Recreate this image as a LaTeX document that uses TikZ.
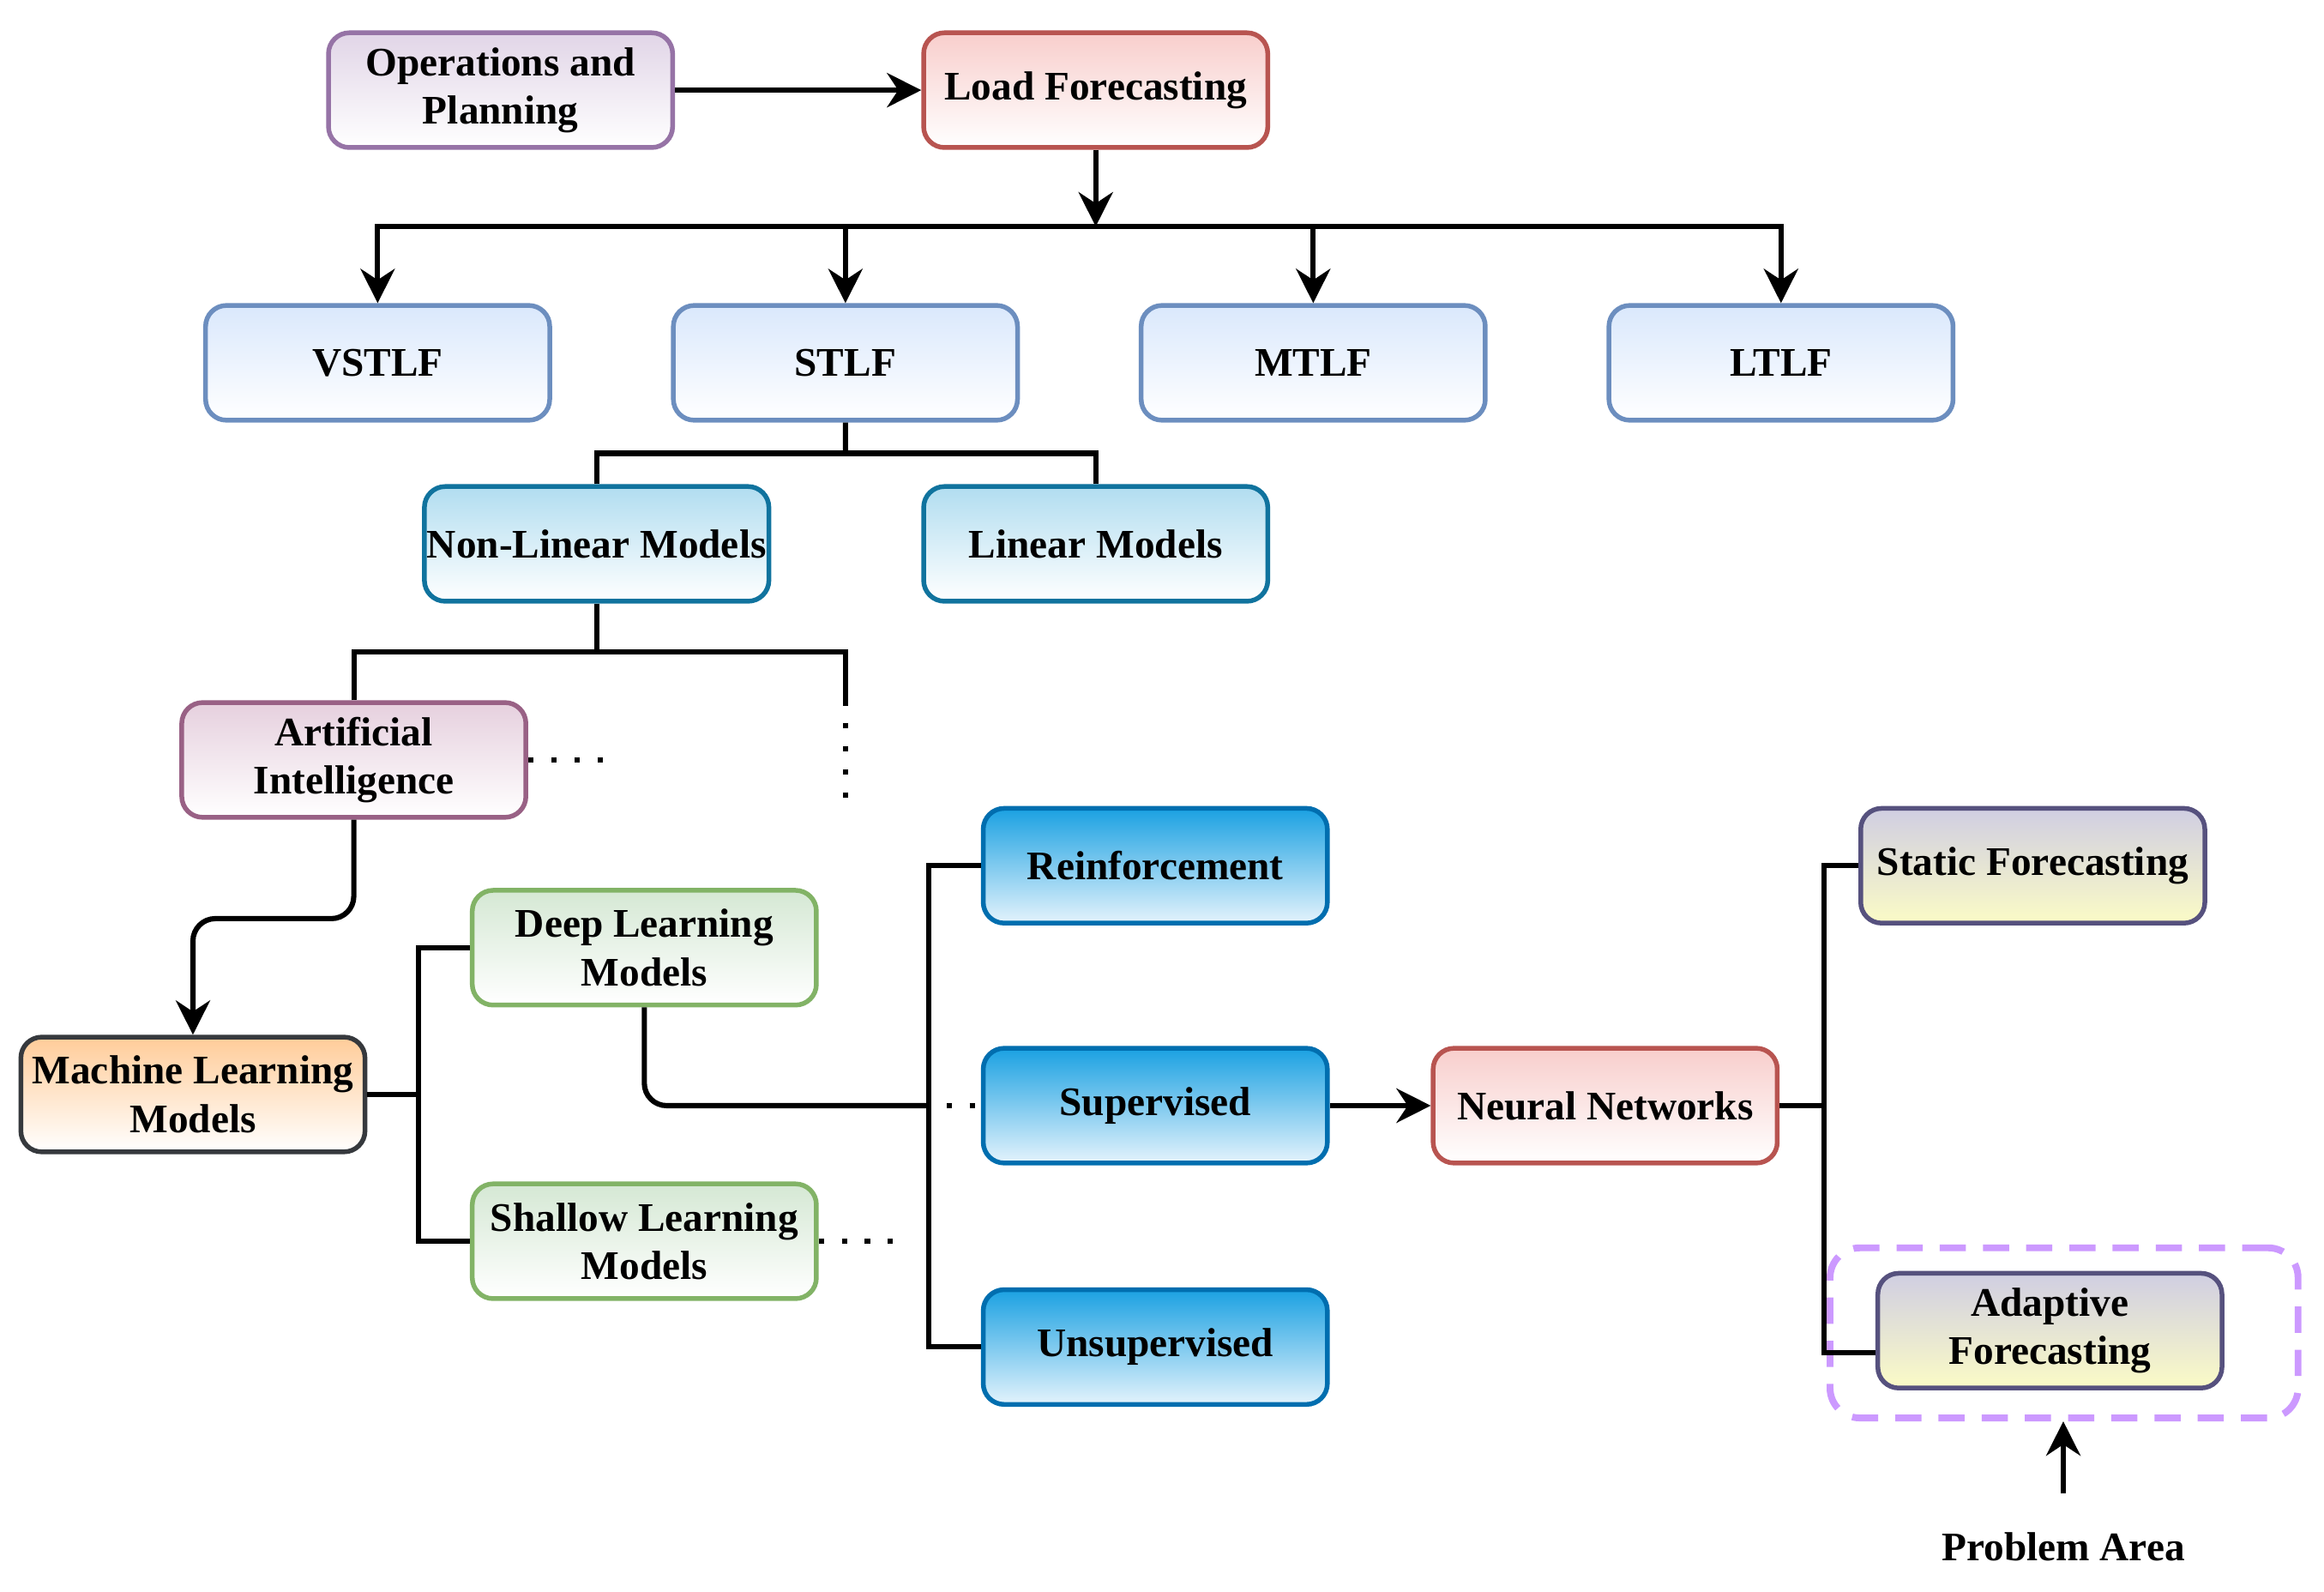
\documentclass[tikz,border=0pt]{standalone}
\usepackage{fontspec}
\setmainfont{Liberation Serif}
\usetikzlibrary{positioning, arrows.meta, calc, fit}

\definecolor{opfill}{HTML}{E1D5E7}
\definecolor{opdraw}{HTML}{9673A6}
\definecolor{lffill}{HTML}{F8CECC}
\definecolor{lfdraw}{HTML}{B85450}
\definecolor{horfill}{HTML}{DAE8FC}
\definecolor{hordraw}{HTML}{6C8EBF}
\definecolor{modfill}{HTML}{B1DDF0}
\definecolor{moddraw}{HTML}{10739E}
\definecolor{aifill}{HTML}{E6D0DE}
\definecolor{aidraw}{HTML}{996185}
\definecolor{mlfill}{HTML}{FFCC99}
\definecolor{mldraw}{HTML}{36393D}
\definecolor{lrnfill}{HTML}{D5E8D4}
\definecolor{lrndraw}{HTML}{82B366}
\definecolor{typfill}{HTML}{1BA1E2}
\definecolor{typdraw}{HTML}{006EAF}
\definecolor{typlow}{HTML}{E4F3FC}
\definecolor{fcfill}{HTML}{D0CEE2}
\definecolor{fclow}{HTML}{FBFBC6}
\definecolor{fcdraw}{HTML}{56517E}
\definecolor{areadraw}{HTML}{CC99FF}

\begin{document}
\begin{tikzpicture}[node distance=2cm,on grid,
  block/.style={rectangle,rounded corners=0.28cm,line width=1.8pt,
    minimum width=4.62cm,minimum height=1.54cm,inner xsep=1pt,align=center,
    font=\fontsize{15.5}{18.5}\selectfont\bfseries},
  opbox/.style={draw=opdraw,top color=opfill,bottom color=white},
  lfbox/.style={draw=lfdraw,top color=lffill,bottom color=white},
  horbox/.style={draw=hordraw,top color=horfill,bottom color=white},
  modelbox/.style={draw=moddraw,top color=modfill,bottom color=white},
  aibox/.style={draw=aidraw,top color=aifill,bottom color=white},
  mlbox/.style={draw=mldraw,top color=mlfill,bottom color=white},
  learnbox/.style={draw=lrndraw,top color=lrnfill,bottom color=white},
  typebox/.style={draw=typdraw,top color=typfill,bottom color=typlow},
  fcbox/.style={draw=fcdraw,top color=fcfill,bottom color=fclow},
  link/.style={line width=2pt},
  arrow/.style={link,-{Stealth[length=0.46cm,width=0.46cm,inset=0.15cm]}},
  dotlink/.style={line width=2pt,dash pattern=on 2pt off 6.8pt},
  areabox/.style={draw=areadraw,line width=2.6pt,dash pattern=on 10pt off 6.5pt,
    rounded corners=0.4cm,inner sep=0pt}]

\path[use as bounding box,fill=white] (0,0) rectangle (31.2,-21.36);

% top levels
\node[block,opbox] (op) at (6.72,-1.21) {Operations and\\Planning};
\node[block,lfbox] (lf) [right=7.99cm of op] {Load Forecasting};
\node[block,horbox] (stlf) [below left=3.66cm and 3.36cm of lf] {STLF};
\node[block,horbox] (vstlf) [left=6.28cm of stlf] {VSTLF};
\node[block,horbox] (mtlf) [right=6.28cm of stlf] {MTLF};
\node[block,horbox] (ltlf) [right=6.28cm of mtlf] {LTLF};

% models
\node[block,modelbox] (nonlin) [below left=2.43cm and 3.34cm of stlf] {Non-Linear Models};
\node[block,modelbox] (lin) [right=6.7cm of nonlin] {Linear Models};
\node[block,aibox] (ai) [below left=2.9cm and 3.26cm of nonlin] {Artificial\\Intelligence};
\node[block,mlbox] (ml) [below left=4.49cm and 2.16cm of ai] {Machine Learning\\Models};
\node[block,learnbox] (deep) [above right=1.97cm and 6.06cm of ml] {Deep Learning\\Models};
\node[block,learnbox] (shallow) [below=3.94cm of deep] {Shallow Learning\\Models};

% learning types
\node[block,typebox] (sup) [below right=2.12cm and 6.86cm of deep] {Supervised};
\node[block,typebox] (reinf) [above=3.22cm of sup] {Reinforcement};
\node[block,typebox] (unsup) [below=3.24cm of sup] {Unsupervised};
\node[block,lfbox] (nn) [right=6.04cm of sup] {Neural Networks};
\node[block,fcbox] (static) [above right=3.22cm and 5.74cm of nn] {Static Forecasting};
\node[block,fcbox] (adapt) [below right=3.02cm and 5.97cm of nn] {Adaptive\\Forecasting};
\node[font=\fontsize{15.5}{18.5}\selectfont\bfseries] (prob) [below right=2.9cm and 0.18cm of adapt] {Problem Area};

% problem area
\coordinate (a1) at ([xshift=-0.61cm,yshift=0.31cm]adapt.north west);
\coordinate (a2) at ([xshift=0.99cm,yshift=-0.37cm]adapt.south east);
\node[areabox,fit=(a1)(a2)] (area) {};

% helper points
\coordinate (bus) at ($(lf.south)!0.5!(lf.south |- stlf.north)$);
\coordinate (split2) at ($(stlf.south)!0.5!(stlf.south |- nonlin.north)$);
\coordinate (split3) at ($(nonlin.south)!0.5!(nonlin.south |- ai.north)$);
\coordinate (stub) at ($(split3 -| stlf)+(0,-0.72)$);
\coordinate (stubend) at ($(stub)+(0,-1.24)$);
\coordinate (aidots) at ([xshift=1.0cm]ai.east);
\coordinate (elbow) at ($(ai.south)!0.46!(ml.north)$);
\coordinate (mlsplit) at ($(ml.east)!0.5!(deep.west |- ml.east)$);
\coordinate (shdots) at ([xshift=1.0cm]shallow.east);
\coordinate (rail) at ([xshift=-0.7cm]sup.west);
\coordinate (nnsplit) at ([xshift=0.6cm]nn.east);

\draw[arrow] (op) -- (lf);
\draw[arrow] (lf.south) -- (bus);
\draw[link,line cap=rect] (vstlf |- bus) -- (ltlf |- bus);
\foreach \n in {vstlf,stlf,mtlf,ltlf}
  \draw[arrow] (\n |- bus) -- (\n.north);

\draw[link] (stlf.south) -- (split2);
\draw[link] (nonlin.north) |- (split2) -| (lin.north);
\draw[link] (nonlin.south) -- (split3);
\draw[link] (ai.north) |- (split3) -| (stub);
\draw[dotlink,dash phase=2pt] (stub) -- (stubend);
\draw[dotlink] (ai.east) -- (aidots);
\draw[arrow,rounded corners=0.3cm] (ai.south) |- (elbow) -| (ml.north);

\draw[link] (ml.east) -- (mlsplit);
\draw[link] (deep.west) -| (mlsplit) |- (shallow.west);
\draw[dotlink] (shallow.east) -- (shdots);
\draw[link,rounded corners=0.3cm] (deep.south) |- (rail);
\draw[link] (reinf.west) -| (rail) |- (unsup.west);
\draw[dotlink,dash phase=2pt] (rail) -- (sup.west);

\draw[arrow] (sup) -- (nn);
\draw[link] (nn.east) -- (nnsplit);
\draw[link] (static.west) -| (nnsplit) |- ([yshift=-0.3cm]adapt.west);
\draw[arrow] ([yshift=0.4cm]prob.north) -- (prob.north |- area.south);
\end{tikzpicture}
\end{document}
